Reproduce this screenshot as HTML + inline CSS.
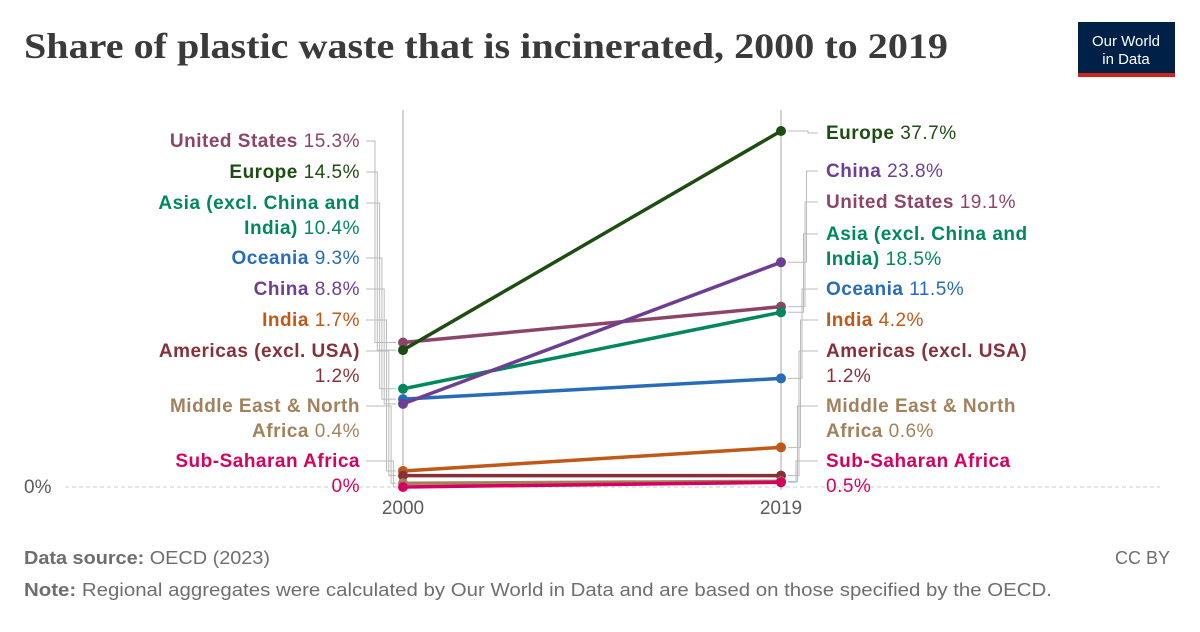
<!DOCTYPE html>
<html><head><meta charset="utf-8"><style>
body{margin:0;background:#fff;width:1200px;height:627px;overflow:hidden;font-family:"Liberation Sans",sans-serif}
</style></head><body>
<svg id="c" width="1200" height="627" xmlns="http://www.w3.org/2000/svg">
<text x="24" y="58" font-family="Liberation Serif" font-weight="bold" font-size="36" fill="#3a3a3a" textLength="924" lengthAdjust="spacingAndGlyphs">Share of plastic waste that is incinerated, 2000 to 2019</text>
<g>
<rect x="1078" y="22" width="97" height="55" fill="#002147"/>
<rect x="1078" y="73" width="97" height="4" fill="#ce261e"/>
<text x="1126" y="46" text-anchor="middle" fill="#fff" font-size="15">Our World</text>
<text x="1126" y="64" text-anchor="middle" fill="#fff" font-size="15">in Data</text>
</g>
<line x1="65" y1="487" x2="1160" y2="487" stroke="#ccc" stroke-dasharray="4,3"/>
<text x="24" y="493" font-size="19" fill="#5b5b5b">0%</text>
<line x1="403" y1="110" x2="403" y2="490" stroke="#aaa"/>
<line x1="781" y1="110" x2="781" y2="490" stroke="#aaa"/>
<text x="403" y="514" text-anchor="middle" font-size="19" fill="#5b5b5b">2000</text>
<text x="781" y="514" text-anchor="middle" font-size="19" fill="#5b5b5b">2019</text>
<g id="marks"></g>
<text x="24" y="564" font-size="18" fill="#6e6e6e" textLength="246" lengthAdjust="spacingAndGlyphs"><tspan font-weight="bold">Data source:</tspan> OECD (2023)</text>
<text x="1170" y="564" text-anchor="end" font-size="18" fill="#6e6e6e">CC BY</text>
<text x="24" y="596" font-size="18" fill="#6e6e6e" textLength="1028" lengthAdjust="spacingAndGlyphs"><tspan font-weight="bold">Note:</tspan> Regional aggregates were calculated by Our World in Data and are based on those specified by the OECD.</text>
</svg>
<script>
const regions=["United States","Europe","Asia (excl. China and India)","Oceania","China","India","Americas (excl. USA)","Middle East & North Africa","Sub-Saharan Africa"];
const v2000=[15.3,14.5,10.4,9.3,8.8,1.7,1.2,0.4,0];
const v2019=[19.1,37.7,18.5,11.5,23.8,4.2,1.2,0.6,0.5];
const colors=["#8c4569","#1d4d12","#00875e","#286bbb","#6d3e91","#c05917","#883039","#a2825c","#d6005f"];
const leftLines=[["United States 15.3%"],["Europe 14.5%"],["Asia (excl. China and","India) 10.4%"],["Oceania 9.3%"],["China 8.8%"],["India 1.7%"],["Americas (excl. USA)","1.2%"],["Middle East & North","Africa 0.4%"],["Sub-Saharan Africa","0%"]];
const leftY=[141,172,203,258,289,320,351,406,461];
const rightOrder=[1,4,0,2,3,5,6,7,8];
const rightLines={1:["Europe 37.7%"],4:["China 23.8%"],0:["United States 19.1%"],2:["Asia (excl. China and","India) 18.5%"],3:["Oceania 11.5%"],5:["India 4.2%"],6:["Americas (excl. USA)","1.2%"],7:["Middle East & North","Africa 0.6%"],8:["Sub-Saharan Africa","0.5%"]};
const rightY=[133,171,202,234,289,320,351,406,461];
const X0=403,X1=781;
const y=v=>487-v*9.443;
const g=document.getElementById('marks');
const NS="http://www.w3.org/2000/svg";
function mk(t,a){const e=document.createElementNS(NS,t);for(const k in a)e.setAttribute(k,a[k]);g.appendChild(e);return e;}
function label(lines,x,y0,anchor,col,name){
  lines.forEach((ln,j)=>{
    const t=mk('text',{x:x,y:y0+j*25+6,'text-anchor':anchor,'font-size':19,'letter-spacing':0.5,fill:col});
    
    
    const m=ln.match(/^(.*?)\s?([\d.]+%)$/);
    if(m){ if(m[1]){const a=document.createElementNS(NS,'tspan');a.setAttribute('font-weight','bold');a.textContent=m[1]+' ';t.appendChild(a);}
      const b=document.createElementNS(NS,'tspan');b.textContent=m[2];t.appendChild(b);}
    else{const a=document.createElementNS(NS,'tspan');a.setAttribute('font-weight','bold');a.textContent=ln;t.appendChild(a);}
  });
}
regions.forEach((r,i)=>{
  const ln=mk('line',{x1:X0,y1:y(v2000[i]),x2:X1,y2:y(v2019[i]),stroke:colors[i],'stroke-width':3.5});
  
  
  [[X0,v2000[i]],[X1,v2019[i]]].forEach(p=>{
    const c=mk('circle',{cx:p[0],cy:y(p[1]),r:5,fill:colors[i]});
    
    
  });
  const ly=leftY[i];
  const l=mk('polyline',{points:`366,${ly} ${375+i*2.3},${ly} ${375+i*2.3},${y(v2000[i])} 396,${y(v2000[i])}`,fill:'none',stroke:'#bbb','stroke-width':1});
  
  
  label(leftLines[i],360,ly,'end',colors[i],'left-label');
});
rightOrder.forEach((i,k)=>{
  const ry=rightY[k];const xv=808-k*1.5;
  const l=mk('polyline',{points:`788,${y(v2019[i])} ${xv},${y(v2019[i])} ${xv},${ry} 818,${ry}`,fill:'none',stroke:'#bbb','stroke-width':1});
  
  
  label(rightLines[i],826,ry,'start',colors[i],'right-label');
});
</script>
</body></html>
